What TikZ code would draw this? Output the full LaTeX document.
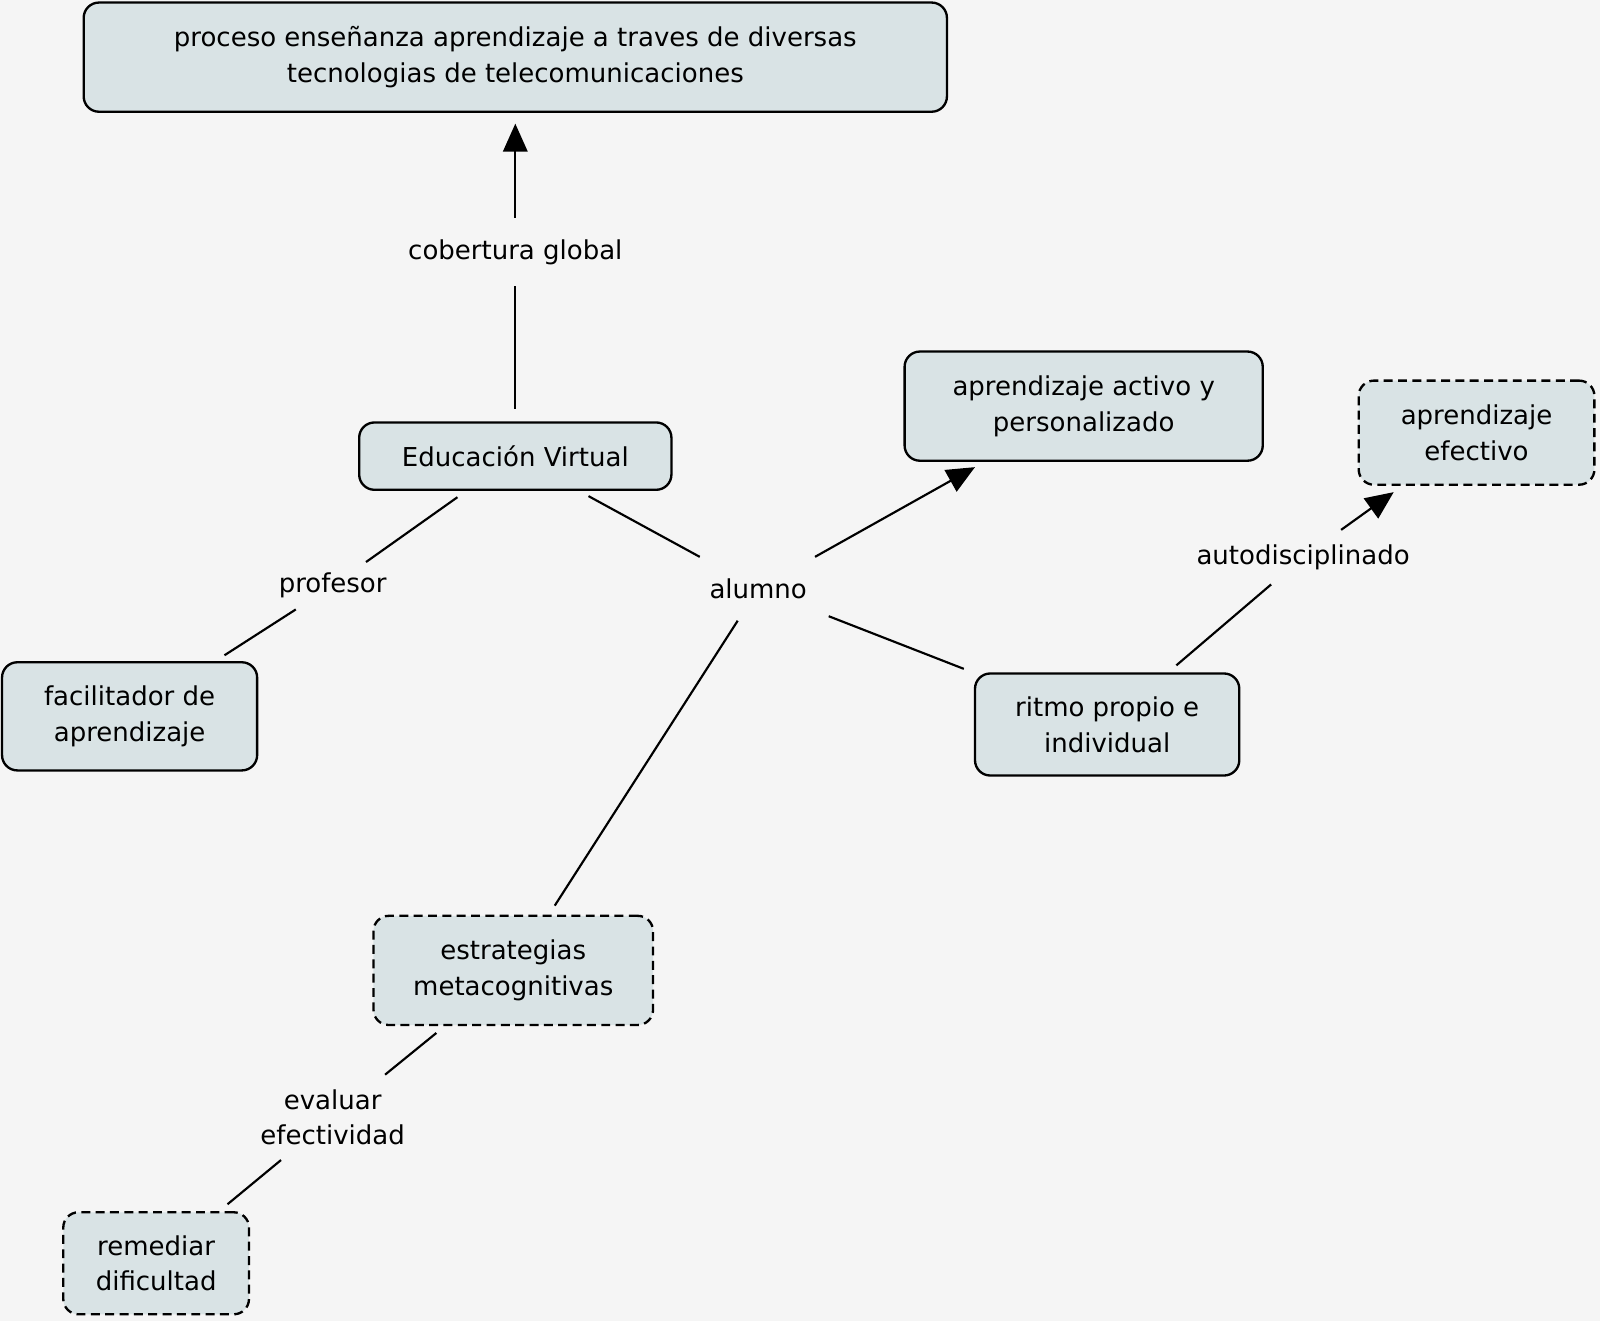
\documentclass[tikz,border=0pt]{standalone}
\usepackage{fontspec}
\setmainfont{DejaVu Sans}
\usetikzlibrary{arrows.meta}
\definecolor{bg}{HTML}{F5F5F5}
\definecolor{boxc}{HTML}{D9E3E5}
\begin{document}
\begin{tikzpicture}[x=0.02cm,y=-0.02cm,
  box/.style={draw=black,line width=1.3pt,fill=boxc,rounded corners=0.3cm,align=center,font=\fontsize{14.5}{20}\selectfont,inner sep=0pt},
  dbox/.style={box,dashed,dash pattern=on 5pt off 3pt},
  lbl/.style={align=center,font=\fontsize{14.5}{20}\selectfont,inner sep=6pt},
  con/.style={line width=1.2pt},
  arr/.style={con,-{Triangle[length=0.55cm,width=0.48cm]}}]
\useasboundingbox[fill=bg] (0,0) rectangle (1568,1295);
\node[box,minimum width=846*0.02cm,minimum height=107*0.02cm] (top) at (505,56) {proceso enseñanza aprendizaje a traves de diversas\\tecnologias de telecomunicaciones};
\node[box,minimum width=306*0.02cm,minimum height=66*0.02cm] (ev) at (505,447) {Educación Virtual};
\node[box,minimum width=351*0.02cm,minimum height=107*0.02cm] (act) at (1062,398) {aprendizaje activo y\\personalizado};
\node[dbox,minimum width=231*0.02cm,minimum height=102*0.02cm] (efe) at (1447,424) {aprendizaje\\efectivo};
\node[box,minimum width=250*0.02cm,minimum height=106*0.02cm] (fac) at (127,702) {facilitador de\\aprendizaje};
\node[box,minimum width=259*0.02cm,minimum height=100*0.02cm] (rit) at (1085,710) {ritmo propio e\\individual};
\node[dbox,minimum width=274*0.02cm,minimum height=107*0.02cm] (est) at (503,951) {estrategias\\metacognitivas};
\node[dbox,minimum width=182*0.02cm,minimum height=100*0.02cm] (rem) at (153,1238) {remediar\\dificultad};
\node[lbl,inner ysep=12pt] (cob) at (505,247) {cobertura global};
\node[lbl] (pro) at (326,574) {profesor};
\node[lbl,inner sep=12pt] (alu) at (743,577) {alumno};
\node[lbl,inner sep=8pt] (aut) at (1277,546) {autodisciplinado};
\node[lbl,inner sep=8pt] (eva) at (326,1095) {evaluar\\efectividad};
\draw[con,shorten <=7pt] (ev) -- (cob);
\draw[arr,shorten >=6pt] (cob) -- (top);
\draw[con,shorten <=6pt] (ev) -- (pro);
\draw[con,shorten >=6pt] (pro) -- (fac);
\draw[con,shorten <=6pt] (ev) -- (alu);
\draw[arr,shorten >=6pt] (alu) -- (act);
\draw[con,shorten >=6pt] (alu) -- (rit);
\draw[con,shorten >=6pt] (alu) -- (est);
\draw[con,shorten <=6pt] (rit) -- (aut);
\draw[arr,shorten >=6pt] (aut) -- (efe);
\draw[con,shorten <=6pt] (est) -- (eva);
\draw[con,shorten >=6pt] (eva) -- (rem);
\end{tikzpicture}
\end{document}
